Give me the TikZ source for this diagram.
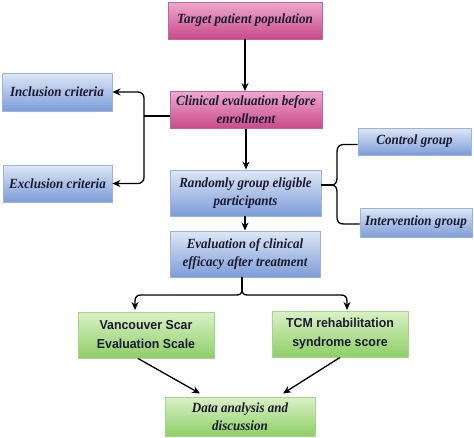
\documentclass[tikz,border=0pt]{standalone}
\usepackage{fontspec}
\setmainfont{Liberation Serif}[FakeStretch=0.93]
\newfontfamily\arialf{Liberation Sans}[FakeStretch=0.95]
\usetikzlibrary{arrows.meta}
\definecolor{pinkT}{HTML}{EEA8CE}
\definecolor{pinkB}{HTML}{C84A8A}
\definecolor{pinkD}{HTML}{B9699A}
\definecolor{blueT}{HTML}{DDE7F6}
\definecolor{blueB}{HTML}{7D9CD8}
\definecolor{blueD}{HTML}{9AB4DE}
\definecolor{greenT}{HTML}{DAF1C7}
\definecolor{greenB}{HTML}{8ECF66}
\definecolor{greenD}{HTML}{A6D48A}
\definecolor{txt}{HTML}{1A1A2E}
\tikzset{
  box/.style={draw, line width=0.9pt, align=center, inner sep=2pt,
    font=\fontsize{14}{18}\selectfont\bfseries\itshape, text=txt},
  pinkbox/.style={box, draw=pinkD, top color=pinkT, bottom color=pinkB},
  bluebox/.style={box, draw=blueD, top color=blueT, bottom color=blueB},
  greenbox/.style={box, draw=greenD, top color=greenT, bottom color=greenB},
  sansbox/.style={greenbox, font=\arialf\fontsize{13}{19}\selectfont\bfseries},
  conn/.style={line width=1.3pt, black},
  arr/.style={conn, -{Stealth[length=8pt,width=7pt]}},
}
\begin{document}
\begin{tikzpicture}[x=1pt,y=-1pt]
\useasboundingbox (0,0) rectangle (474,437);
\node[pinkbox, minimum width=154pt, minimum height=37pt] (tgt) at (245,20.5) {Target patient population};
\node[pinkbox, minimum width=152pt, minimum height=37pt] (clin) at (246,110) {Clinical evaluation before\\enrollment};
\node[bluebox, minimum width=110pt, minimum height=38pt] (inc) at (57,92) {Inclusion criteria};
\node[bluebox, minimum width=109pt, minimum height=37pt] (exc) at (57.5,183.5) {Exclusion criteria};
\node[bluebox, minimum width=151pt, minimum height=46pt] (rand) at (245.5,193) {Randomly group eligible\\participants};
\node[bluebox, minimum width=113pt, minimum height=27pt] (ctrl) at (414.5,141.5) {Control group};
\node[bluebox, minimum width=112pt, minimum height=29pt] (intv) at (416,222.5) {Intervention group};
\node[bluebox, minimum width=150pt, minimum height=46pt] (eval) at (245,254) {Evaluation of clinical\\efficacy after treatment};
\node[sansbox, minimum width=136pt, minimum height=46pt] (vsc) at (146,335) {Vancouver Scar\\Evaluation Scale};
\node[sansbox, minimum width=136pt, minimum height=46pt] (tcm) at (340,334) {TCM rehabilitation\\syndrome score};
\node[greenbox, minimum width=150pt, minimum height=39pt] (data) at (240,416.5) {Data analysis and\\discussion};
% main vertical arrows
\draw[arr] (tgt.south) -- (clin.north -| tgt.south);
\draw[arr] (clin.south) -- (rand.north -| clin.south);
\draw[arr] (rand.south -| eval.north) -- (eval.north);
% left bracket
\coordinate (lj) at (144,116);
\draw[conn] (clin.west |- lj) -- (lj);
\draw[arr, rounded corners=6pt] (lj) |- (inc.east);
\draw[arr, rounded corners=6pt] (lj) |- (exc.east);
% right brace
\coordinate (rb) at (331,185);
\draw[conn] (rand.east |- rb) -- (rb);
\draw[conn] (rb) .. controls (335,185) and (337,183) .. (337,178) -- (337,152)
  .. controls (337,147) and (339,144.5) .. (344,144.5) -- (ctrl.west |- 0,144.5);
\draw[conn] (rb) .. controls (335,185) and (337,187) .. (337,192) -- (337,217)
  .. controls (337,222) and (339,224) .. (344,224) -- (intv.west |- 0,224);
% lower brace
\coordinate (bj) at (242,289);
\draw[conn] (eval.south -| bj) -- (bj);
\draw[arr] (bj) .. controls (242,294) and (240,295) .. (236,295) -- (141,295)
  .. controls (137,295) and (135,297) .. (135,301) -- (135,310);
\draw[arr] (bj) .. controls (242,294) and (244,295) .. (248,295) -- (341,295)
  .. controls (345,295) and (347,297) .. (347,301) -- (347,310);
% to data
\draw[arr] ([xshift=-8pt]vsc.south) -- (200,393.5);
\draw[arr] (tcm.south) -- (283,393.5);
\end{tikzpicture}
\end{document}
